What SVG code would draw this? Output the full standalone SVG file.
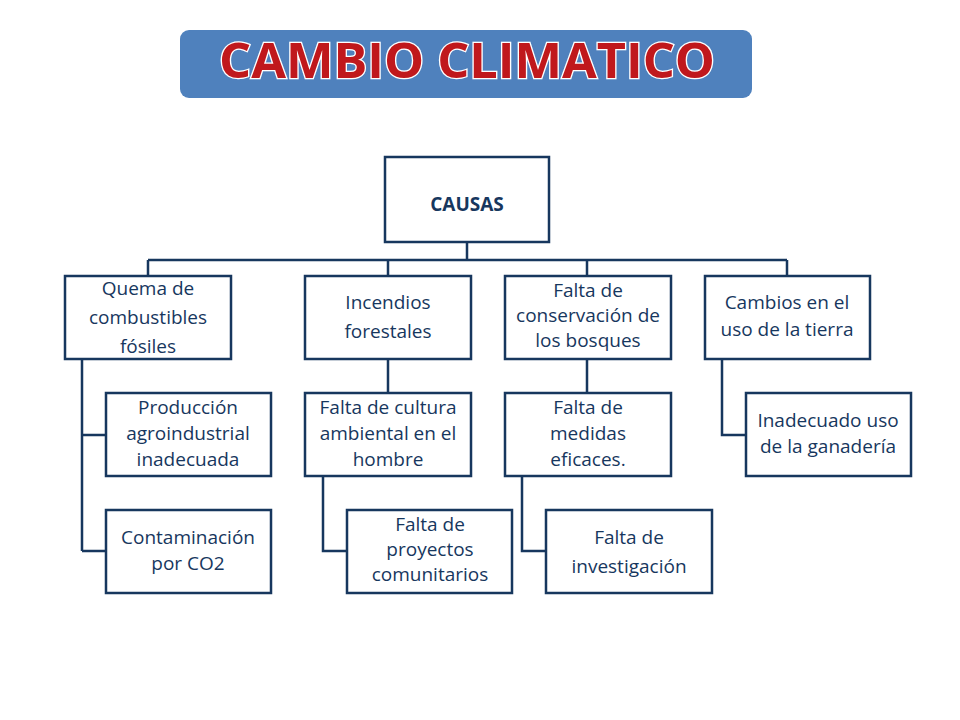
<svg xmlns="http://www.w3.org/2000/svg" width="960" height="720" viewBox="0 0 960 720">
<style>
.b{fill:#fff;stroke:#17375e;stroke-width:2.5}
.t{font-family:"Open Sans","Liberation Sans",sans-serif;font-size:19px;fill:#17375e;text-anchor:middle}
.c{fill:none;stroke:#17375e;stroke-width:2.5}
</style>
<rect width="960" height="720" fill="#fff"/>
<g id="title">
<rect x="180" y="30" width="572" height="68" rx="9" fill="#4f81bd"/>
<text x="467" y="78" font-family="Open Sans,Liberation Sans,sans-serif" font-weight="bold" font-size="48" fill="#c0181c" stroke="#fff" stroke-width="2.5" paint-order="stroke" text-anchor="middle" textLength="496" lengthAdjust="spacingAndGlyphs">CAMBIO CLIMATICO</text>
</g>
<g id="connectors" class="c">
<path class="c" d="M467 242V260M148 260H787M148 260V276M388 260V276M587 260V276M787 260V276"/>
<path class="c" d="M82 359V551M82 435H106M82 551H106"/>
<path class="c" d="M388 359V393M323 476V551H347"/>
<path class="c" d="M587 359V393M522 476V551H546"/>
<path class="c" d="M722 359V435H746"/>
</g>
<g id="causas"><rect class="b" x="385" y="157" width="164" height="85"/><text class="t" x="467" y="211" font-size="32" font-weight="bold">CAUSAS</text></g>
<g id="n1"><rect class="b" x="65" y="276" width="166" height="83"/><text class="t" x="148" y="295"><tspan x="148" dy="0">Quema de</tspan><tspan x="148" dy="29">combustibles</tspan><tspan x="148" dy="29">fósiles</tspan></text></g>
<g id="n2"><rect class="b" x="305" y="276" width="166" height="83"/><text class="t" x="388" y="309"><tspan x="388" dy="0">Incendios</tspan><tspan x="388" dy="29">forestales</tspan></text></g>
<g id="n3"><rect class="b" x="505" y="276" width="166" height="83"/><text class="t" x="588" y="297" font-size="18"><tspan x="588" dy="0">Falta de</tspan><tspan x="588" dy="25">conservación de</tspan><tspan x="588" dy="25">los bosques</tspan></text></g>
<g id="n4"><rect class="b" x="705" y="276" width="165" height="83"/><text class="t" x="787" y="309" font-size="18"><tspan x="787" dy="0">Cambios en el</tspan><tspan x="787" dy="27">uso de la tierra</tspan></text></g>
<g id="n5"><rect class="b" x="106" y="393" width="165" height="83"/><text class="t" x="188" y="414"><tspan x="188" dy="0">Producción</tspan><tspan x="188" dy="26">agroindustrial</tspan><tspan x="188" dy="26">inadecuada</tspan></text></g>
<g id="n6"><rect class="b" x="305" y="393" width="166" height="83"/><text class="t" x="388" y="414"><tspan x="388" dy="0">Falta de cultura</tspan><tspan x="388" dy="26">ambiental en el</tspan><tspan x="388" dy="26">hombre</tspan></text></g>
<g id="n7"><rect class="b" x="505" y="393" width="166" height="83"/><text class="t" x="588" y="414"><tspan x="588" dy="0">Falta de</tspan><tspan x="588" dy="26">medidas</tspan><tspan x="588" dy="26">eficaces.</tspan></text></g>
<g id="n8"><rect class="b" x="746" y="393" width="165" height="83"/><text class="t" x="828" y="427"><tspan x="828" dy="0">Inadecuado uso</tspan><tspan x="828" dy="26">de la ganadería</tspan></text></g>
<g id="n9"><rect class="b" x="106" y="510" width="165" height="83"/><text class="t" x="188" y="544"><tspan x="188" dy="0">Contaminación</tspan><tspan x="188" dy="26">por CO2</tspan></text></g>
<g id="n10"><rect class="b" x="347" y="510" width="165" height="83"/><text class="t" x="430" y="531" font-size="18"><tspan x="430" dy="0">Falta de</tspan><tspan x="430" dy="25">proyectos</tspan><tspan x="430" dy="25">comunitarios</tspan></text></g>
<g id="n11"><rect class="b" x="546" y="510" width="166" height="83"/><text class="t" x="629" y="544" font-size="22"><tspan x="629" dy="0">Falta de</tspan><tspan x="629" dy="29">investigación</tspan></text></g>
</svg>
